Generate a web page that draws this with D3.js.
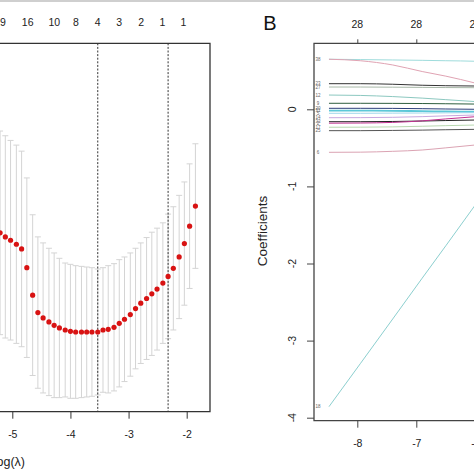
<!DOCTYPE html>
<html lang="en">
<head>
  <meta charset="UTF-8">
  <title>LASSO cross-validation and coefficient paths</title>
  <script src="https://d3js.org/d3.v7.min.js"></script>
  <style>
    body { margin: 0; background: #fff; }
    svg { display: block; font-family: "Liberation Sans", Arial, sans-serif; }
  </style>
</head>
<body>
  <div id="chart"></div>
  <script>
    // ---- panel A: cross-validation curve (log lambda, mean deviance, SE) ----
    const cvLogLambda = [-5.21, -5.12, -5.03, -4.93, -4.84, -4.75, -4.65, -4.56, -4.47, -4.37,
      -4.28, -4.19, -4.09, -4.00, -3.91, -3.81, -3.72, -3.63, -3.53, -3.44,
      -3.35, -3.25, -3.16, -3.07, -2.97, -2.88, -2.79, -2.69, -2.60, -2.51,
      -2.41, -2.32, -2.23, -2.13, -2.04, -1.95, -1.85];
    const cvMean = [1.217, 1.211, 1.206, 1.200, 1.193, 1.165, 1.124, 1.098, 1.090, 1.084,
      1.079, 1.075, 1.072, 1.070, 1.069, 1.069, 1.069, 1.069, 1.069, 1.072,
      1.073, 1.076, 1.082, 1.088, 1.095, 1.104, 1.112, 1.119, 1.126, 1.133,
      1.142, 1.152, 1.164, 1.181, 1.201, 1.227, 1.257];
    const cvSE = [0.152, 0.151, 0.149, 0.148, 0.146, 0.134, 0.120, 0.113, 0.112, 0.110,
      0.108, 0.104, 0.100, 0.100, 0.099, 0.098, 0.097, 0.096, 0.094, 0.093,
      0.095, 0.095, 0.095, 0.093, 0.092, 0.090, 0.090, 0.091, 0.092, 0.091,
      0.090, 0.093, 0.092, 0.092, 0.092, 0.093, 0.093];
    const cvTopLabels = ["19", "16", "10", "8", "4", "3", "2", "1", "1"];
    const cvTopPos = [-5.21, -4.735, -4.277, -3.904, -3.53, -3.163, -2.785, -2.418, -2.057];
    const cvTicks = [-5, -4, -3, -2];
    const lambdaMinLog = -3.53;
    const lambda1seLog = -2.32;

    // ---- panel B: coefficient paths ----
    const pathLogLambda = [-8.48, -7.95, -7.4, -6.9, -6.5, -6.0, -5.9];
    const pathSeries = [
      { label: "38", color: "#9fdcdc", values: [0.649, 0.645, 0.640, 0.635, 0.630, 0.623, 0.620] },
      { label: "",   color: "#e0a3b3", values: [0.649, 0.630, 0.575, 0.490, 0.430, 0.340, 0.320] },
      { label: "23", color: "#333333", values: [0.332, 0.332, 0.325, 0.312, 0.306, 0.302, 0.300] },
      { label: "27", color: "#a9b9a9", values: [0.289, 0.289, 0.287, 0.284, 0.282, 0.280, 0.280] },
      { label: "12", color: "#8cc8c0", values: [0.185, 0.180, 0.165, 0.145, 0.125, 0.100, 0.095] },
      { label: "9",  color: "#2f5f3f", values: [0.078, 0.078, 0.077, 0.075, 0.072, 0.068, 0.067] },
      { label: "20", color: "#2c3e7a", values: [0.013, 0.013, 0.012, 0.008, 0.004, 0.000, -0.001] },
      { label: "31", color: "#5cc8d8", values: [-0.018, -0.018, -0.020, -0.024, -0.028, -0.032, -0.033] },
      { label: "5",  color: "#a0d8ec", values: [-0.052, -0.052, -0.050, -0.048, -0.046, -0.044, -0.044] },
      { label: "14", color: "#c8a8e0", values: [-0.109, -0.108, -0.104, -0.095, -0.085, -0.074, -0.072] },
      { label: "33", color: "#222222", values: [-0.161, -0.161, -0.158, -0.152, -0.146, -0.139, -0.138] },
      { label: "2",  color: "#c03090", values: [-0.180, -0.178, -0.170, -0.150, -0.125, -0.096, -0.090] },
      { label: "17", color: "#b8d8b0", values: [-0.233, -0.232, -0.228, -0.220, -0.212, -0.204, -0.202] },
      { label: "25", color: "#555555", values: [-0.277, -0.277, -0.274, -0.270, -0.265, -0.260, -0.259] },
      { label: "6",  color: "#dba3b3", values: [-0.558, -0.556, -0.545, -0.528, -0.500, -0.463, -0.455] },
      { label: "18", color: "#8ccfcf", values: [-3.857, -3.300, -2.720, -2.190, -1.770, -1.240, -1.135] }
    ];
    const pathTopLabels = ["28", "28", "28"];
    const pathTopPos = [-8, -7, -6];
    const pathXTicks = [-8, -7, -6];
    const pathYTicks = [0, -1, -2, -3, -4];

    const width = 474;
    const height = 474;

    const svg = d3.select("#chart")
      .append("svg")
      .attr("width", width)
      .attr("height", height);

    svg.append("rect").attr("width", width).attr("height", height).attr("fill", "#fff");
    svg.append("rect").attr("width", width).attr("height", 2).attr("fill", "#cfcfcf");

    // ===== panel A =====
    const boxA = { left: -20, right: 210, top: 43.3, bottom: 411.7 };
    const xA = d3.scaleLinear().domain([-5, -2]).range([12.3, 186.7]);
    const yA = d3.scaleLinear().domain([0.95, 1.50]).range([boxA.bottom, boxA.top]);

    const gA = svg.append("g");

    // error bars
    const bars = gA.append("g")
      .attr("stroke", "#d4d4d4")
      .attr("stroke-width", 1);
    cvLogLambda.forEach((lx, i) => {
      const x = xA(lx);
      const y1 = yA(cvMean[i] + cvSE[i]);
      const y2 = yA(cvMean[i] - cvSE[i]);
      bars.append("line").attr("x1", x).attr("x2", x).attr("y1", y1).attr("y2", y2);
      bars.append("line").attr("x1", x - 3).attr("x2", x + 3).attr("y1", y1).attr("y2", y1);
      bars.append("line").attr("x1", x - 3).attr("x2", x + 3).attr("y1", y2).attr("y2", y2);
    });

    // vertical reference lines
    [lambdaMinLog, lambda1seLog].forEach(v => {
      gA.append("line")
        .attr("x1", xA(v)).attr("x2", xA(v))
        .attr("y1", boxA.top).attr("y2", boxA.bottom)
        .attr("stroke", "#333")
        .attr("stroke-width", 1)
        .attr("stroke-dasharray", "2,1.6");
    });

    gA.append("g")
      .selectAll("circle")
      .data(cvLogLambda)
      .enter().append("circle")
      .attr("cx", d => xA(d))
      .attr("cy", (d, i) => yA(cvMean[i]))
      .attr("r", 2.6)
      .attr("fill", "#d81313");

    // box
    gA.append("path")
      .attr("d", `M${boxA.left},${boxA.top}H${boxA.right}V${boxA.bottom}H${boxA.left}`)
      .attr("fill", "none")
      .attr("stroke", "#333")
      .attr("stroke-width", 1.3);

    // bottom axis
    const axA = gA.append("g")
      .attr("transform", `translate(0,${boxA.bottom})`)
      .call(d3.axisBottom(xA).tickValues(cvTicks).tickSize(7).tickFormat(d => String(d)));
    axA.select(".domain").remove();
    axA.selectAll("line").attr("stroke", "#333");
    axA.selectAll("text")
      .attr("font-size", 10.5)
      .attr("fill", "#222")
      .attr("dy", "1.55em")
      .attr("font-family", "Liberation Sans, Arial, sans-serif");

    gA.append("text")
      .attr("x", 25)
      .attr("y", 466)
      .attr("text-anchor", "end")
      .attr("font-size", 12.5)
      .attr("fill", "#222")
      .text("Log(λ)");

    // top counts
    gA.append("g")
      .selectAll("text")
      .data(cvTopLabels)
      .enter().append("text")
      .attr("x", (d, i) => xA(cvTopPos[i]))
      .attr("y", 26)
      .attr("text-anchor", "middle")
      .attr("font-size", 10.5)
      .attr("fill", "#222")
      .text(d => d);

    // ===== panel B =====
    const boxB = { left: 314, right: 500, top: 43.3, bottom: 420.7 };
    const xB = d3.scaleLinear().domain([-8, -7]).range([357.3, 416.3]);
    const yB = d3.scaleLinear().domain([-4, 0]).range([417.7, 109.3]);

    const gB = svg.append("g");

    const line = d3.line()
      .x((d, i) => xB(pathLogLambda[i]))
      .y(d => yB(d))
      .curve(d3.curveMonotoneX);

    gB.append("g")
      .selectAll("path")
      .data(pathSeries)
      .enter().append("path")
      .attr("d", d => line(d.values))
      .attr("fill", "none")
      .attr("stroke", d => d.color)
      .attr("stroke-width", d => d.label === "31" ? 1.8 : 1);

    gB.append("g")
      .selectAll("text")
      .data(pathSeries.filter(d => d.label))
      .enter().append("text")
      .attr("x", 318)
      .attr("y", d => yB(d.values[0]) + 1.6)
      .attr("text-anchor", "middle")
      .attr("font-size", 4.5)
      .attr("fill", "#666")
      .text(d => d.label);

    gB.append("path")
      .attr("d", `M${boxB.right},${boxB.top}H${boxB.left}V${boxB.bottom}H${boxB.right}`)
      .attr("fill", "none")
      .attr("stroke", "#444")
      .attr("stroke-width", 1.3);

    const axBx = gB.append("g")
      .attr("transform", `translate(0,${boxB.bottom})`)
      .call(d3.axisBottom(xB).tickValues(pathXTicks).tickSize(7).tickFormat(d => String(d)));
    axBx.select(".domain").remove();
    axBx.selectAll("line").attr("stroke", "#444");
    axBx.selectAll("text")
      .attr("font-size", 10.5)
      .attr("fill", "#222")
      .attr("dy", "1.55em")
      .attr("font-family", "Liberation Sans, Arial, sans-serif");

    const axBtop = gB.append("g")
      .attr("transform", `translate(0,${boxB.top})`)
      .call(d3.axisTop(xB).tickValues(pathTopPos).tickSize(4).tickFormat(""));
    axBtop.select(".domain").remove();
    axBtop.selectAll("line").attr("stroke", "#444");

    gB.append("g")
      .selectAll("text")
      .data(pathTopLabels)
      .enter().append("text")
      .attr("x", (d, i) => xB(pathTopPos[i]))
      .attr("y", 28)
      .attr("text-anchor", "middle")
      .attr("font-size", 10.5)
      .attr("fill", "#222")
      .text(d => d);

    const axBy = gB.append("g")
      .attr("transform", `translate(${boxB.left},0)`)
      .call(d3.axisLeft(yB).tickValues(pathYTicks).tickSize(7).tickFormat(""));
    axBy.select(".domain").remove();
    axBy.selectAll("line").attr("stroke", "#444");

    gB.append("g")
      .selectAll("text")
      .data(pathYTicks)
      .enter().append("text")
      .attr("transform", d => `translate(296,${yB(d)}) rotate(-90)`)
      .attr("text-anchor", "middle")
      .attr("font-size", 10.5)
      .attr("fill", "#222")
      .text(d => String(d));

    gB.append("text")
      .attr("transform", "translate(267,231) rotate(-90)")
      .attr("text-anchor", "middle")
      .attr("font-size", 13.5)
      .attr("fill", "#222")
      .text("Coefficients");

    gB.append("text")
      .attr("x", 270)
      .attr("y", 29.5)
      .attr("text-anchor", "middle")
      .attr("font-size", 20)
      .attr("fill", "#111")
      .text("B");
  </script>
</body>
</html>
